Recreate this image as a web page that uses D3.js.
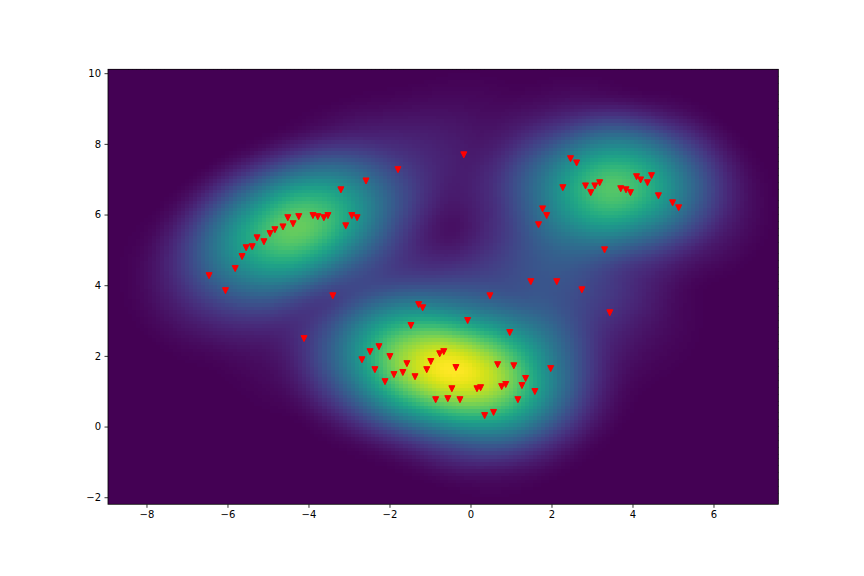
<!DOCTYPE html>
<html>
<head>
<meta charset="utf-8">
<script src="https://cdn.jsdelivr.net/npm/d3@7"></script>
<style>
html,body{margin:0;padding:0;background:#fff}
svg{display:block}
.tick text{font-family:"DejaVu Sans",sans-serif;font-size:10px;fill:#000}
</style>
</head>
<body>
<svg id="chart" width="864" height="576"></svg>
<script>
const pointsX = [
 -6.455,-6.05,-5.81,-5.64,-5.54,-5.39,-5.27,-5.10,-4.95,-4.83,-4.63,-4.51,-4.38,-4.24,-3.89,-3.77,-3.62,-3.52,-3.20,-2.58,-3.08,-2.93,-2.80,-3.40,-1.79,-4.11,-0.165,
 2.47,2.62,2.28,2.84,3.07,3.19,2.97,3.71,3.84,3.95,4.10,4.20,4.37,4.47,4.64,4.99,5.14,1.78,1.88,1.68,3.31,1.49,2.13,2.75,3.44,0.48,-0.07,0.97,
 -1.28,-1.18,-1.47,-2.26,-2.48,-2.68,-1.99,-2.36,-1.57,-1.89,-1.67,-2.11,-1.37,-0.98,-1.08,-0.76,-0.66,-0.36,-0.46,-0.86,-0.56,-0.26,0.16,0.25,0.67,1.07,1.98,1.36,1.27,0.87,0.77,1.59,1.17,0.57,0.35
];
const pointsY = [
 4.27,3.845,4.47,4.81,5.06,5.09,5.34,5.23,5.46,5.57,5.65,5.91,5.74,5.94,5.97,5.94,5.91,5.97,6.70,6.95,5.68,5.97,5.91,3.70,7.27,2.49,7.69,
 7.58,7.46,6.76,6.81,6.81,6.90,6.62,6.73,6.70,6.62,7.07,6.98,6.90,7.10,6.53,6.33,6.19,6.16,5.97,5.71,5.00,4.10,4.10,3.87,3.22,3.70,3.00,2.66,
 3.45,3.36,2.86,2.26,2.12,1.89,1.98,1.61,1.78,1.47,1.53,1.27,1.41,1.84,1.61,2.06,2.12,1.67,1.07,0.76,0.79,0.76,1.07,1.10,1.75,1.72,1.64,1.36,1.16,1.19,1.13,0.99,0.76,0.40,0.31
];
const xTicks = [-8,-6,-4,-2,0,2,4,6];
const yTicks = [-2,0,2,4,6,8,10];
const xLimits = [-8.95,7.6];
const yLimits = [-2.2,10.11];
const gridPadding = 2.5;
const bandwidth = 2.65;   // quartic kernel radius of the density surface
const gridStep = 0.1;

const margin = {left:108, right:778.3, top:69.3, bottom:504.3};
const x = d3.scaleLinear().domain(xLimits).range([margin.left, margin.right]);
const y = d3.scaleLinear().domain(yLimits).range([margin.bottom, margin.top]);
const svg = d3.select("#chart");

svg.append("defs").append("clipPath").attr("id","plot")
  .append("rect").attr("x",margin.left).attr("y",margin.top)
  .attr("width",margin.right-margin.left).attr("height",margin.bottom-margin.top);

// density surface: quartic kernel estimate over the points
const xs = d3.range(d3.min(pointsX)-gridPadding, d3.max(pointsX)+gridPadding, gridStep);
const ys = d3.range(d3.min(pointsY)-gridPadding, d3.max(pointsY)+gridPadding, gridStep);
const cells = [];
for (const gx of xs) for (const gy of ys) {
  let v = 0;
  for (let i=0;i<pointsX.length;i++) {
    const d = Math.hypot(gx-pointsX[i], gy-pointsY[i]);
    if (d <= bandwidth) { const u = d/bandwidth; v += (15/16)*Math.pow(1-u*u,2); }
  }
  cells.push({gx,gy,v});
}
const color = d3.scaleSequential(d3.interpolateViridis).domain([0,d3.max(cells,d=>d.v)]);

svg.append("g").attr("clip-path","url(#plot)")
  .attr("shape-rendering","crispEdges")
  .selectAll("rect").data(cells).join("rect")
  .attr("x",d=>x(d.gx))
  .attr("y",d=>y(d.gy+gridStep))
  .attr("width",d=>x(d.gx+gridStep)-x(d.gx)+0.5)
  .attr("height",d=>y(d.gy)-y(d.gy+gridStep)+0.5)
  .attr("fill",d=>color(d.v));

// downward triangle marker
const triangleDown = {draw(ctx,size){
  const r = Math.sqrt(size)/2;
  ctx.moveTo(-r,-r); ctx.lineTo(r,-r); ctx.lineTo(0,r); ctx.closePath();
}};
const marker = d3.symbol().type(triangleDown).size(36);
svg.append("g").attr("clip-path","url(#plot)")
  .selectAll("path").data(pointsX.map((px,i)=>[px,pointsY[i]])).join("path")
  .attr("transform",d=>`translate(${x(d[0])},${y(d[1])})`)
  .attr("d",marker)
  .attr("fill","#ff0000").attr("stroke","#ff0000").attr("stroke-width",1);

// frame
svg.append("rect").attr("x",margin.left).attr("y",margin.top)
  .attr("width",margin.right-margin.left).attr("height",margin.bottom-margin.top)
  .attr("fill","none").attr("stroke","#000").attr("stroke-width",0.8);

const fmt = d=>String(d).replace("-","\u2212");
const gx = svg.append("g").attr("transform",`translate(0,${margin.bottom})`)
  .call(d3.axisBottom(x).tickValues(xTicks).tickFormat(fmt).tickSize(3.5).tickPadding(3.5));
const gy = svg.append("g").attr("transform",`translate(${margin.left},0)`)
  .call(d3.axisLeft(y).tickValues(yTicks).tickFormat(fmt).tickSize(3.5).tickPadding(3.5));
[gx,gy].forEach(g=>{
  g.select(".domain").remove();
  g.selectAll(".tick line").attr("stroke","#000").attr("stroke-width",0.8);
});
</script>
</body>
</html>
